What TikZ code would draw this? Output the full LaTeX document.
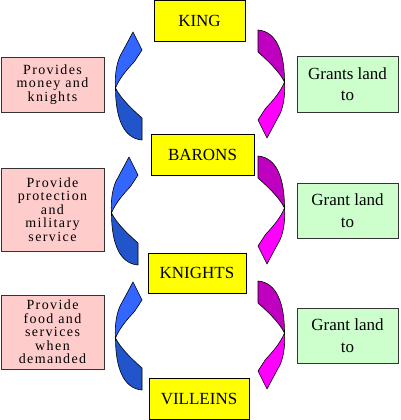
\documentclass[tikz,border=0pt]{standalone}
\usepackage{fontspec}
\setmainfont{Liberation Serif}
\newfontfamily\pinkfont[LetterSpace=10]{Liberation Serif}
\definecolor{ybox}{HTML}{FFFF00}
\definecolor{pbox}{HTML}{FFCCCC}
\definecolor{gbox}{HTML}{CCFFCC}
\definecolor{blueL}{HTML}{3366FF}
\definecolor{blueD}{HTML}{2255CC}
\definecolor{magL}{HTML}{FF00FF}
\definecolor{magD}{HTML}{C000C0}
\newcommand\myarrow[2]{%
  \filldraw[fill=#1,draw=black,line width=0.6pt,line join=round]
    (0.5,56) .. controls (-0.5,42) and (2,28) .. (7,20.5) -- (18,0) -- (27,18) -- (19.5,29.5)
    .. controls (12.5,37) and (4.5,46) .. (0.5,56) -- cycle;
  \filldraw[fill=#2,draw=black,line width=0.6pt,line join=round]
    (0.5,56) .. controls (0.5,85) and (8,106.5) .. (27,108) -- (27,86)
    .. controls (18,78) and (6,67) .. (0.5,56) -- cycle;
}
\tikzset{
  rank/.style={draw=black,line width=0.8pt,fill=ybox,inner sep=0pt,
    font=\fontsize{17}{20}\selectfont},
  duty/.style={draw=black!80,line width=0.8pt,fill=pbox,inner sep=0pt,
    align=center,font=\pinkfont\fontsize{14}{13.5}\selectfont},
  grant/.style={draw=black!80,line width=0.8pt,fill=gbox,inner sep=0pt,
    align=center,font=\fontsize{17}{21.5}\selectfont},
}
\begin{document}
\begin{tikzpicture}[x=1pt,y=-1pt]
\useasboundingbox (0,0) rectangle (400,420);
\fill[white] (0,0) rectangle (400,420);
% ranks
\node[rank,minimum width=91,minimum height=41] (king) at (199.5,21) {KING};
\node[rank,minimum width=103,minimum height=41] (barons) at (202.5,154.5) {BARONS};
\node[rank,minimum width=98,minimum height=40] (knights) at (197,273) {KNIGHTS};
\node[rank,minimum width=100,minimum height=41] (villeins) at (199,398.5) {VILLEINS};
% duties
\node[duty,minimum width=103,minimum height=55] (d1) at (52.5,84.5) {Provides\\money and\\knights};
\node[duty,minimum width=103,minimum height=83] (d2) at (52.5,209.5) {Provide\\protection\\and\\military\\service};
\node[duty,minimum width=103,minimum height=74] (d3) at (52.5,332) {Provide\\food and\\services\\when\\demanded};
% grants
\node[grant,minimum width=101,minimum height=56] (g1) at (347.5,84) {Grants land\\to};
\node[grant,minimum width=101,minimum height=55] (g2) at (347.5,210.5) {Grant land\\to};
\node[grant,minimum width=101,minimum height=55] (g3) at (347.5,335.5) {Grant land\\to};
% blue curved arrows (upward)
\begin{scope}[shift={(115,32)}]\myarrow{blueL}{blueD}\end{scope}
\begin{scope}[shift={(111,157)}]\myarrow{blueL}{blueD}\end{scope}
\begin{scope}[shift={(115,282)}]\myarrow{blueL}{blueD}\end{scope}
% magenta curved arrows (downward)
\begin{scope}[shift={(285,138)},rotate=180]\myarrow{magL}{magD}\end{scope}
\begin{scope}[shift={(285,264)},rotate=180]\myarrow{magL}{magD}\end{scope}
\begin{scope}[shift={(285,389)},rotate=180]\myarrow{magL}{magD}\end{scope}
\end{tikzpicture}
\end{document}
